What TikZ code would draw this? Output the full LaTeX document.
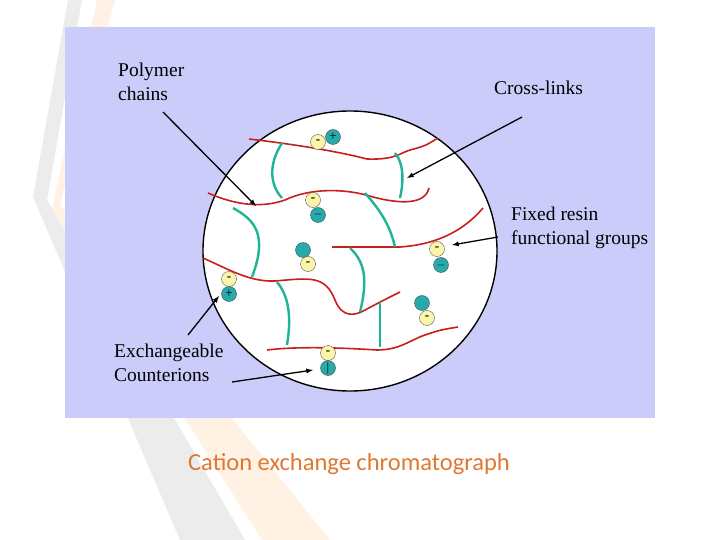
\documentclass[tikz,border=0pt]{standalone}
\usepackage{fontspec}
\usetikzlibrary{shapes.geometric}
\setmainfont{Liberation Serif}
\newfontfamily\capfont{Carlito}
\definecolor{chainred}{RGB}{200,30,30}
\definecolor{linkgreen}{RGB}{30,180,150}
\definecolor{ionyel}{RGB}{250,245,170}
\definecolor{ionteal}{RGB}{40,170,170}
\definecolor{panel}{RGB}{204,204,250}
\definecolor{capor}{RGB}{225,120,50}
\begin{document}
\begin{tikzpicture}[x=1pt,y=-1pt,
 chain/.style={draw=chainred,line width=1.6pt},
 link/.style={draw=linkgreen,line width=2.4pt},
 yion/.style={circle,draw=gray!70!black,fill=ionyel,minimum size=15pt,inner sep=0pt,font=\fontsize{13}{13}\selectfont\bfseries},
 tion/.style={circle,draw=gray!60!black,fill=ionteal,minimum size=15pt,inner sep=0pt,font=\fontsize{13}{13}\selectfont},
 lbl/.style={align=left,anchor=north west,font=\fontsize{19.5}{24}\selectfont,inner sep=0pt},
 arr/.style={-latex,line width=1.3pt}]
\useasboundingbox (0,0) rectangle (720,540);
\fill[white] (0,0) rectangle (720,540);
\fill[gray!15] (68,0)--(82,0)--(47,200)--(245,540)--(180,540)--(33,197)--cycle;
\fill[orange!10] (97,0)--(115,0)--(60,205)--(330,540)--(262,540)--(52,210)--cycle;
\fill[panel] (65,27) rectangle (655,418);
\node[draw,line width=1.4pt,fill=white,ellipse,minimum width=294pt,minimum height=280pt,inner sep=0pt] (c) at (350,251) {};
% chains
\draw[chain] (249,139) .. controls (300,145) and (340,152) .. (367,159) .. controls (395,160) and (400,153) .. (410,150) .. controls (425,146) .. (438,138);
\draw[chain] (208,193) .. controls (240,207) and (265,207) .. (285,200) .. controls (310,188) and (345,188) .. (373,197) .. controls (400,204) and (425,205) .. (429,188);
\draw[chain] (332,247) -- (400,247) .. controls (430,245) and (460,235) .. (483,208);
\draw[chain] (203,258) .. controls (230,270) and (250,282) .. (275,281) .. controls (310,278) and (325,275) .. (335,300) .. controls (342,318) and (355,316) .. (365,310) .. controls (380,302) .. (400,292);
\draw[chain] (267,350) .. controls (300,346) and (345,348) .. (377,350) .. controls (400,350) and (410,340) .. (425,335) .. controls (440,330) .. (458,327);
% links
\draw[link] (282,143) .. controls (268,165) and (270,185) .. (282,198);
\draw[link] (395,153) .. controls (405,165) and (403,185) .. (400,198);
\draw[link] (233,208) .. controls (255,220) and (268,235) .. (252,277);
\draw[link] (365,193) .. controls (380,210) and (390,225) .. (395,247);
\draw[link] (350,248) .. controls (365,262) and (368,280) .. (360,312);
\draw[link] (277,282) .. controls (288,295) and (292,315) .. (287,345);
\draw[link] (380,302) -- (380,347);
% ions
\node[yion] (y1) at (318,142) {-}; \node[tion] (t1) at (333,137) {+};
\node[yion] (y2) at (313,200) {-}; \node[tion] (t2) at (318,215) {$-$};
\node[tion] (t3) at (303,250) {}; \node[yion] (y3) at (308,264) {-};
\node[yion] (y4) at (437,249) {-}; \node[tion] (t4) at (441,265) {$-$};
\node[yion] (y5) at (229,279) {-}; \node[tion] (t5) at (229,294) {+};
\node[tion] (t6) at (422,303) {}; \node[yion] (y6) at (427,318) {-};
\node[yion] (y7) at (328,353) {-}; \node[tion] (t7) at (328,368) {|};
% labels
\node[lbl] (l1) at (118,63) {Polymer\\chains};
\node[lbl] (l2) at (494,81) {Cross-links};
\node[lbl] (l3) at (511,207) {Fixed resin\\functional groups};
\node[lbl] (l4) at (114,344) {Exchangeable\\Counterions};
\coordinate (a1) at (163,112); \coordinate (e1) at (256,206);
\coordinate (a2) at (522,117); \coordinate (e2) at (407,178);
\coordinate (a3) at (498,237); \coordinate (e3) at (452,245);
\coordinate (a4) at (188,335); \coordinate (e4) at (219,296);
\coordinate (a5) at (232,382); \coordinate (e5) at (313,370);
\draw[arr] (a1)--(e1); \draw[arr] (a2)--(e2); \draw[arr] (a3)--(e3);
\draw[arr] (a4)--(e4); \draw[arr] (a5)--(e5);
\node[font=\capfont\fontsize{24.5}{28}\selectfont,text=capor] (cap) at (349,464) {Cation exchange chromatograph};
\end{tikzpicture}
\end{document}
